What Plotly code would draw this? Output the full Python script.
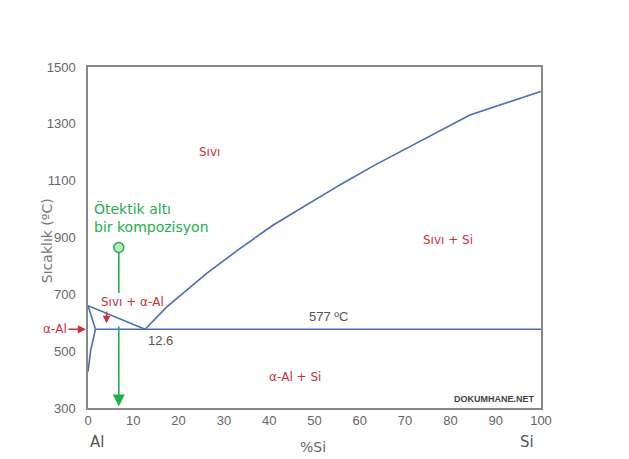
import plotly.graph_objects as go

# ---- data ----
liq_si_x = [12.6, 17.4, 26.2, 33.6, 40.9, 55.6, 63.0, 70.4, 84.3, 99.4, 100]
liq_si_T = [577, 656, 774, 862, 944, 1085, 1152, 1214, 1331, 1411, 1414]
liq_al_x = [0, 12.6]
liq_al_T = [660, 577]
sol_x = [0, 1.65]
sol_T = [660, 577]
solvus_x = [1.65, 0.6, 0]
solvus_T = [577, 504, 428]
eut_x = [1.65, 100]
eut_T = [577, 577]
comp_x = 6.8
comp_top_T = 865
comp_gap_T = [705, 592]
comp_end_T = 305
x_ticks = list(range(0, 101, 10))
y_ticks = list(range(300, 1501, 200))

BLUE = "#4a6fb0"
GREEN = "#22b04b"
RED = "#c8323c"
GRAY = "#666666"
NARROW = "Liberation Sans Narrow, Liberation Sans, Arial, sans-serif"
SANS = "DejaVu Sans, Verdana, sans-serif"

fig = go.Figure()
for xs, ys in [(liq_si_x, liq_si_T), (liq_al_x, liq_al_T), (sol_x, sol_T),
               (solvus_x, solvus_T), (eut_x, eut_T)]:
    fig.add_trace(go.Scatter(x=xs, y=ys, mode="lines", cliponaxis=False,
                             line=dict(color=BLUE, width=1.6), hoverinfo="skip"))

# green composition line (upper part) and marker
fig.add_trace(go.Scatter(x=[comp_x, comp_x], y=[comp_top_T, comp_gap_T[0]], mode="lines",
                         line=dict(color=GREEN, width=1.6), hoverinfo="skip"))
fig.add_trace(go.Scatter(x=[comp_x], y=[comp_top_T], mode="markers",
                         marker=dict(size=10, color="#bfe8bf", line=dict(color=GREEN, width=1.5)),
                         hoverinfo="skip"))

ann = []
# green arrow down
ann.append(dict(x=comp_x, y=comp_end_T, ax=comp_x, ay=comp_gap_T[1], axref="x", ayref="y",
                xref="x", yref="y", text="", showarrow=True, arrowhead=2, arrowsize=1.5,
                arrowwidth=1.6, arrowcolor=GREEN))
# red small arrow down
ann.append(dict(x=4.1, y=598, ax=4.1, ay=645, axref="x", ayref="y", xref="x", yref="y",
                text="", showarrow=True, arrowhead=2, arrowsize=1.0, arrowwidth=1.5,
                arrowcolor=RED))
# alpha-Al arrow
ann.append(dict(x=0, y=577, ax=-33, ay=0, xref="x", yref="y", text="α-Al",
                showarrow=True, arrowhead=2, arrowsize=1.1, arrowwidth=1.5, arrowcolor=RED,
                standoff=2, font=dict(family=SANS, size=12, color=RED)))

def txt(x, y, s, color=RED, size=12, family=SANS, **kw):
    d = dict(x=x, y=y, xref="x", yref="y", text=s, showarrow=False,
             font=dict(family=family, size=size, color=color))
    d.update(kw)
    ann.append(d)

txt(26.9, 1201, "Sıvı")
txt(79.5, 891, "Sıvı + Si")
txt(45.7, 409, "α-Al + Si")
txt(9.9, 673, "Sıvı + α-Al")
txt(53.0, 621, "577 ºC", color="#555555", size=13, family=NARROW)
txt(15.9, 536, "12.6", color="#555555", size=13, family=NARROW)
txt(0.9, 969, "Ötektik altı<br>bir kompozisyon", color=GREEN, size=14, xanchor="left", align="left")
txt(99.2, 330, "<b>DOKUMHANE.NET</b>", color="#444444", size=9, family=NARROW, xanchor="right")

# outside labels
ann.append(dict(x=0, y=-0.1, xref="paper", yref="paper", text="Al", showarrow=False,
                yanchor="middle", font=dict(family=SANS, size=15, color="#555555")))
ann.append(dict(x=0.99, y=-0.1, xref="paper", yref="paper", text="Si", showarrow=False,
                yanchor="middle", font=dict(family=SANS, size=15, color="#555555")))
ann.append(dict(x=0.497, y=-0.115, xref="paper", yref="paper", text="%Si", showarrow=False,
                yanchor="middle", font=dict(family=SANS, size=14, color="#666666")))
ann.append(dict(x=-0.112, y=0.49, xref="paper", yref="paper", text="Sıcaklık (ºC)",
                showarrow=False, textangle=-90, font=dict(family=SANS, size=14, color="#777777")))

fig.update_layout(
    width=629, height=459, showlegend=False,
    margin=dict(l=88, r=88, t=67, b=51),
    plot_bgcolor="white", paper_bgcolor="white",
    annotations=ann,
    xaxis=dict(range=[0, 100], tickvals=x_ticks, showgrid=False, zeroline=False,
               showline=True, linecolor="#888888", linewidth=1.5, mirror=True,
               ticks="", tickfont=dict(family=NARROW, size=13, color=GRAY)),
    yaxis=dict(range=[300, 1500], tickvals=y_ticks, showgrid=False, zeroline=False,
               showline=True, linecolor="#888888", linewidth=1.5, mirror=True,
               ticks="", ticklabelstandoff=8,
               tickfont=dict(family=NARROW, size=13, color=GRAY)),
)

fig.write_html("out.html")
